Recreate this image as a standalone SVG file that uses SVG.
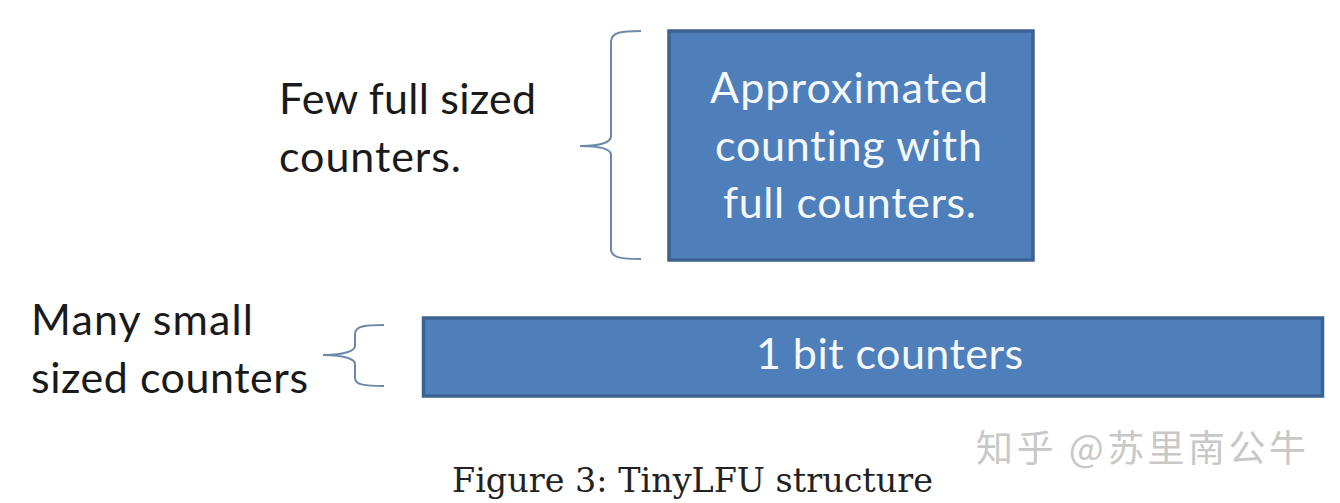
<svg xmlns="http://www.w3.org/2000/svg" width="1340" height="503" viewBox="0 0 1340 503">
<style>
.box{fill:#4f7fbb;stroke:#3b6292;stroke-width:3.5}
.brace{fill:none;stroke:#6d89a8;stroke-width:2}
.t{font-family:"Lato","Open Sans",sans-serif;font-size:43px;font-variant-ligatures:none}
.k{fill:#1a1a1a}
.w{fill:#f4f8fc}
.cap{font-family:"DejaVu Serif","Liberation Serif",serif;font-size:33px;fill:#222}
.wm{font-family:"Noto Sans CJK SC",sans-serif;font-size:37px;fill:#c8c8c8}
</style>
<rect width="1340" height="503" fill="#fff"/>
<g id="connectors">
<path class="brace" d="M641 31C622 31 611 32 611 42V136C611 141 604 146 580 146C604 146 611 150 611 155V249C611 258 622 259 641 259"/>
<path class="brace" d="M384 325C365 325 355 326 355 334V346C355 350 347 355 323 355C347 355 355 360 355 364V378C355 385 365 386 384 386"/>
</g>
<g id="node-few"><text class="t k" x="279" y="114" textLength="257" lengthAdjust="spacing">Few full sized</text><text class="t k" x="279" y="172" textLength="182" lengthAdjust="spacing">counters.</text></g>
<g id="node-approx"><rect class="box" x="669" y="31" width="364" height="229"/><text class="t w" x="710" y="103" textLength="278" lengthAdjust="spacing">Approximated</text><text class="t w" x="715" y="161" textLength="267" lengthAdjust="spacing">counting with</text><text class="t w" x="723" y="218" textLength="253" lengthAdjust="spacing">full counters.</text></g>
<g id="node-many"><text class="t k" x="31" y="335" textLength="222" lengthAdjust="spacing">Many small</text><text class="t k" x="31" y="393" textLength="277" lengthAdjust="spacing">sized counters</text></g>
<g id="node-bit"><rect class="box" x="423.500" y="318" width="899" height="78"/><text class="t w" x="756" y="369" textLength="267" lengthAdjust="spacing">1 bit counters</text></g>
<text class="cap" x="452" y="492" textLength="481" lengthAdjust="spacingAndGlyphs">Figure 3: TinyLFU structure</text>
<text class="wm" x="976" y="462" textLength="330" lengthAdjust="spacing">知乎 @苏里南公牛</text>
</svg>
